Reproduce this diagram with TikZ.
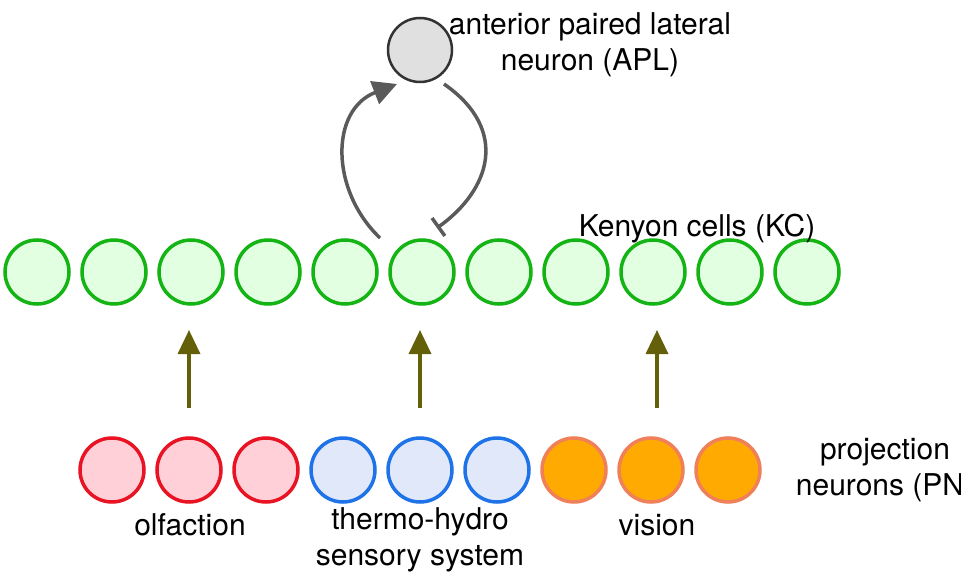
\documentclass[tikz,border=0pt]{standalone}
\usepackage{fontspec}
\setmainfont{TeX Gyre Heros}
\usetikzlibrary{arrows.meta}
\definecolor{kcs}{RGB}{20,180,20}\definecolor{kcf}{RGB}{226,255,226}
\definecolor{rs}{RGB}{232,20,35}\definecolor{rf}{RGB}{255,208,216}
\definecolor{bs}{RGB}{30,115,232}\definecolor{bf}{RGB}{224,232,250}
\definecolor{os}{RGB}{240,128,90}\definecolor{of}{RGB}{255,170,0}
\definecolor{olv}{RGB}{100,96,10}\definecolor{gr}{RGB}{90,90,90}
\begin{document}
\begin{tikzpicture}[x=1pt,y=-1pt,
 cell/.style={circle,minimum size=64pt,inner sep=0,line width=3.5pt},
 kc/.style={cell,draw=kcs,fill=kcf},
 lab/.style={font=\fontsize{30}{36}\selectfont,align=center},
 feed/.style={olv,line width=3.5pt,-{Triangle[length=24pt,width=22pt]}},
 loop/.style={gr,line width=3.5pt}]
\useasboundingbox (0,0) rectangle (961,577);
\foreach \i in {0,...,10}{\node[kc] (k\i) at (37+77*\i,272) {};}
\foreach \i/\c in {0/r,1/r,2/r,3/b,4/b,5/b,6/o,7/o,8/o}{\node[cell,draw=\c s,fill=\c f] (p\i) at (112+77*\i,470) {};}
\node[cell,draw=black!80,fill=black!12,line width=2.5pt] (apl) at (420,50) {};
\node[lab] at (590,45) {anterior paired lateral\\neuron (APL)};
\node[lab] at (697,229) {Kenyon cells (KC)};
\node[lab] at (885,470) {projection\\neurons (PN)};
\node[lab] at (190,525) {olfaction};
\node[lab] at (420,540) {thermo-hydro\\sensory system};
\node[lab] at (657,525) {vision};
\coordinate (a1) at (189,408);\coordinate (b1) at (189,330);
\coordinate (a2) at (420,408);\coordinate (b2) at (420,330);
\coordinate (a3) at (657,408);\coordinate (b3) at (657,330);
\draw[feed] (a1)--(b1);\draw[feed] (a2)--(b2);\draw[feed] (a3)--(b3);
\coordinate (l0) at (380,238);\coordinate (l1) at (397,84);
\coordinate (r0) at (444,84);\coordinate (r1) at (437,228);
\draw[loop,-{Triangle[length=24pt,width=24pt]}] (l0) .. controls (330,190) and (330,110) .. (l1);
\draw[loop,-{Bar[width=22pt]}] (r0) .. controls (510,130) and (490,190) .. (r1);
\end{tikzpicture}
\end{document}
